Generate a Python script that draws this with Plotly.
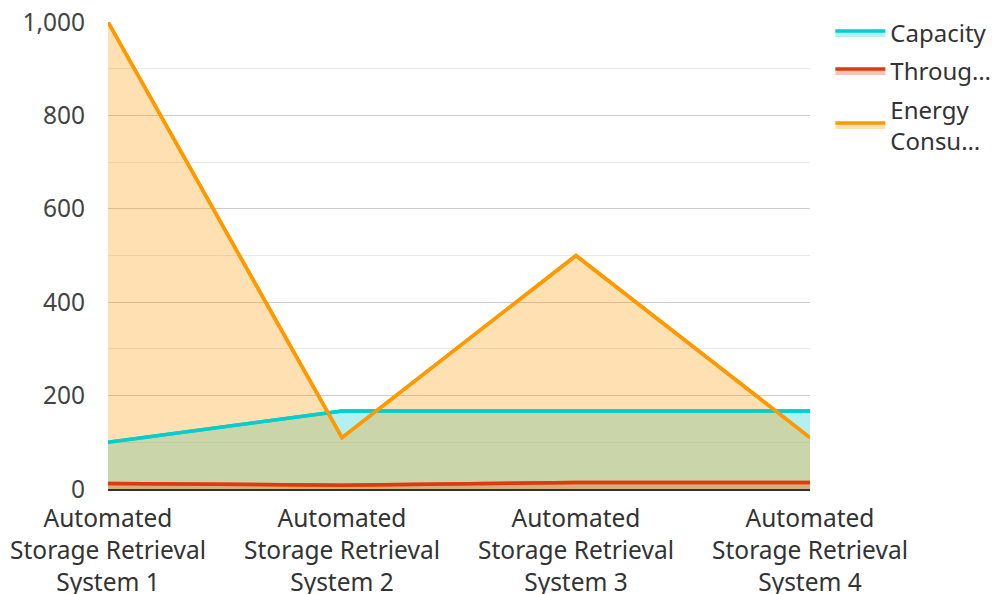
import plotly.graph_objects as go

categories = ["Automated<br>Storage Retrieval<br>System 1", "Automated<br>Storage Retrieval<br>System 2",
              "Automated<br>Storage Retrieval<br>System 3", "Automated<br>Storage Retrieval<br>System 4"]
series_names = ["Capacity", "Throug…", "Energy<br>Consu…"]
capacity = [100, 167, 167, 167]
throughput = [12, 8, 14, 14]
energy = [1000, 110, 500, 110]

line_colors = ["#00CED1", "#DD3A12", "#FF9900"]
fill_colors = ["rgba(0,206,209,0.3)", "rgba(221,58,18,0.3)", "rgba(255,160,20,0.32)"]
all_vals = [capacity, throughput, energy]

fig = go.Figure()
# fills (with legend entries)
for i, (name, vals, lc, fc) in enumerate(zip(series_names, all_vals, line_colors, fill_colors)):
    fig.add_trace(go.Scatter(
        x=categories, y=vals, name=name, mode="lines", legendgroup=f"g{i}",
        line=dict(color=lc, width=3.5), fill="tozeroy", fillcolor=fc,
    ))
# lines on top of all fills
for i, (name, vals, lc) in enumerate(zip(series_names, all_vals, line_colors)):
    fig.add_trace(go.Scatter(
        x=categories, y=vals, name=name, mode="lines", legendgroup=f"g{i}",
        line=dict(color=lc, width=3.5), showlegend=False, hoverinfo="skip",
    ))

font_family = "Noto Sans, Open Sans, sans-serif"
fig.update_layout(
    width=992, height=586,
    margin=dict(l=100, r=190, t=14, b=105, autoexpand=False),
    paper_bgcolor="white", plot_bgcolor="white",
    font=dict(family=font_family, size=24.5, color="#444"),
    showlegend=True,
    legend=dict(x=1.029, y=1.024, xanchor="left", yanchor="top",
                font=dict(size=24, color="#333"), tracegroupgap=4,
                itemwidth=50),
    xaxis=dict(type="category", range=[0, 3], showgrid=False, ticks="",
               showline=True, linecolor="#333", linewidth=2, automargin=False,
               ticklabelstandoff=7, ticklabeloverflow="allow",
               tickfont=dict(size=24.5, color="#333")),
    yaxis=dict(range=[0, 1000], dtick=200, tickformat=",d", automargin=False,
               showgrid=True, gridcolor="#cccccc", gridwidth=1,
               zeroline=False, showline=False, ticks="",
               ticklabelstandoff=22, ticklabeloverflow="allow",
               minor=dict(dtick=100, showgrid=True, gridcolor="#e8e8e8", gridwidth=1),
               tickfont=dict(size=24.5, color="#444")),
)
fig.write_html("out.html")
